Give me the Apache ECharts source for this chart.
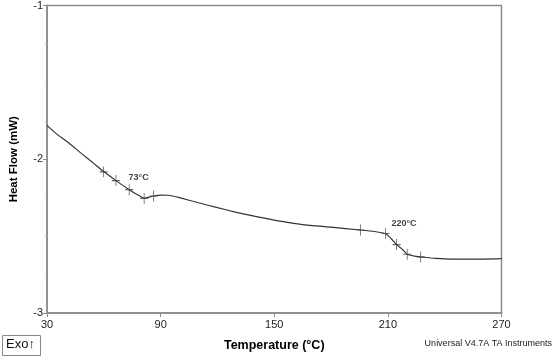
<!DOCTYPE html>
<html><head><meta charset="utf-8">
<script src="https://cdn.jsdelivr.net/npm/echarts@6/dist/echarts.min.js"></script>
<style>html,body{margin:0;padding:0;background:#fff}#c{width:553px;height:357px}</style>
</head><body><div id="c"></div>
<script>
const temperature = [30,35,40,48,55,60,66.4,73.4,78,81.3,84,86.3,90,94,100,110,120,130,140,153,165,180,195.5,203,208.8,212,214.6,218,220.2,224,227.3,235,245,255,270];
const heatFlow = [-1.78,-1.835,-1.88,-1.96,-2.03,-2.08,-2.139,-2.198,-2.232,-2.255,-2.246,-2.239,-2.233,-2.234,-2.25,-2.283,-2.315,-2.345,-2.372,-2.403,-2.425,-2.442,-2.46,-2.47,-2.485,-2.52,-2.555,-2.59,-2.618,-2.63,-2.635,-2.645,-2.65,-2.65,-2.646];
const markerT = [59.9,66.4,73.4,81.3,86.3,195.5,208.8,214.6,220.2,227.3];
const markerH = [-2.082,-2.139,-2.198,-2.255,-2.239,-2.46,-2.483,-2.555,-2.618,-2.635];
const labelText = ['73°C','220°C'];
const labelT = [78.4,218.5];
const labelH = [-2.12,-2.415];
const xTicks = [30,90,150,210,270];
const yTicks = [-3,-2,-1];

const chart = echarts.init(document.getElementById('c'), null, {renderer:'canvas'});
const font = 'Liberation Sans, Arial, sans-serif';
const axisColor = '#8a8a8a';
chart.setOption({
  animation:false,
  grid:{left:46,right:51.5,top:5,bottom:36,show:true,borderColor:axisColor,borderWidth:1.5,containLabel:false},
  xAxis:{type:'value',min:30,max:270,interval:60,
    axisLine:{show:true,lineStyle:{color:axisColor,width:1.5}},
    axisTick:{show:true,length:4,inside:false,lineStyle:{color:axisColor}},
    splitLine:{show:false},
    axisLabel:{color:'#222',fontFamily:font,fontSize:11,margin:6,
      formatter:v=>xTicks.includes(v)?String(v):''},
    name:'Temperature (°C)',nameLocation:'middle',nameGap:26,
    nameTextStyle:{fontFamily:font,fontWeight:'bold',fontSize:12.5,color:'#000'}},
  yAxis:{type:'value',min:-3,max:-1,interval:1,
    axisLine:{show:true,lineStyle:{color:axisColor,width:1.5}},
    axisTick:{show:true,length:4,lineStyle:{color:axisColor}},
    minorTick:{show:true,splitNumber:4,length:2,lineStyle:{color:'#bbb'}},
    splitLine:{show:false},
    axisLabel:{color:'#222',fontFamily:font,fontSize:11,margin:4,
      formatter:v=>yTicks.includes(v)?String(v):''},
    name:'Heat Flow (mW)',nameLocation:'middle',nameGap:27,
    nameTextStyle:{fontFamily:font,fontWeight:'bold',fontSize:11.5,color:'#000'}},
  series:[
    {type:'line',data:temperature.map((t,i)=>[t,heatFlow[i]]),smooth:0.15,showSymbol:false,
      lineStyle:{color:'#333',width:1.2},z:3},
    {type:'scatter',data:markerT.map((t,i)=>[t,markerH[i]]),
      symbol:'path://M5,0L5,10M2,5L8,5',symbolSize:[8,11],
      itemStyle:{color:'none',borderColor:'#444',borderWidth:1},z:4},
    {type:'scatter',data:labelT.map((t,i)=>({value:[t,labelH[i]],name:labelText[i]})),
      symbolSize:0,
      label:{show:true,position:'inside',formatter:p=>p.name,fontFamily:font,fontWeight:'bold',fontSize:9,color:'#111'},z:5}
  ],
  graphic:[
    {type:'rect',left:2,top:335,shape:{width:38,height:20},style:{fill:'#fff',stroke:'#888',lineWidth:1}},
    {type:'text',left:6,top:338,style:{text:'Exo↑',font:'13px Liberation Sans, Arial, sans-serif',fill:'#111'}},
    {type:'text',right:1,top:339,style:{text:'Universal V4.7A TA Instruments',font:'9px Liberation Sans, sans-serif',fill:'#222'}}
  ]
});
</script></body></html>
